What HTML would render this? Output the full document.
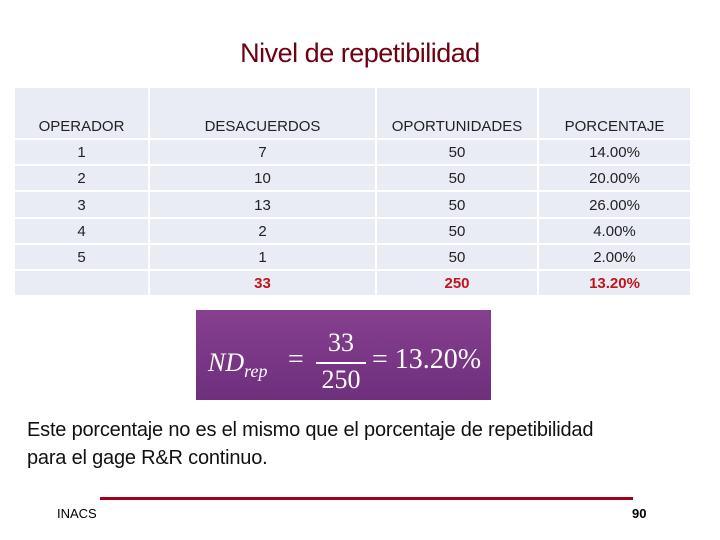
<!DOCTYPE html>
<html><head><meta charset="utf-8"><style>
body{margin:0;width:720px;height:540px;background:#fff;position:relative;overflow:hidden;font-family:"Liberation Sans","DejaVu Sans",sans-serif;}
.title{position:absolute;top:38px;left:0;width:720px;text-align:center;font-size:27px;color:#6e0010;letter-spacing:-0.5px;}
.tbl{position:absolute;left:15px;top:88px;}
.c{position:absolute;background:#e9ebf5;display:flex;align-items:flex-end;justify-content:center;font-size:15px;color:#222;box-sizing:border-box;padding-bottom:3px;}
.r{color:#c0151d;font-weight:bold;}
.formula{position:absolute;left:196px;top:310px;width:295px;height:90px;background:linear-gradient(#86408f,#6e2f7c);color:#fff;font-family:"Liberation Serif",serif;}
.para{position:absolute;left:27px;top:416px;width:650px;font-size:20px;line-height:28px;color:#111;letter-spacing:-0.2px;}
</style></head><body>
<div class="title">Nivel de repetibilidad</div>
<div class="tbl" id="tbl"></div>
<div class="formula">
 <span style="position:absolute;left:12px;top:38px;font-size:26px;font-style:italic;">ND<sub style="font-size:18px">rep</sub></span>
 <span style="position:absolute;left:92px;top:34px;font-size:28px;">=</span>
 <span style="position:absolute;left:123px;top:18px;font-size:26px;width:44px;text-align:center;">33</span>
 <div style="position:absolute;left:120px;top:52px;width:50px;height:2px;background:#fff;"></div>
 <span style="position:absolute;left:117px;top:55px;font-size:26px;width:56px;text-align:center;">250</span>
 <span style="position:absolute;left:176px;top:34px;font-size:28px;">= 13.20%</span>
</div>
<div class="para">Este porcentaje no es el mismo que el porcentaje de repetibilidad<br>para el gage R&amp;R continuo.</div>
<div style="position:absolute;left:100px;top:497px;width:533px;height:3px;background:#a0001a;"></div>
<div style="position:absolute;left:57px;top:506px;font-size:13px;">INACS</div>
<div style="position:absolute;left:632px;top:506px;font-size:13px;font-weight:bold;">90</div>
<script>
const headers=["OPERADOR","DESACUERDOS","OPORTUNIDADES","PORCENTAJE"];
const operators=["1","2","3","4","5"];
const disagreements=[7,10,13,2,1];
const opportunities=[50,50,50,50,50];
const colX=[0,135,362,524,677];
const rowY=[0,52,78,104,131,157,183,209];
const t=document.getElementById('tbl');
function cell(r,c,txt,cls){
 const d=document.createElement('div');
 d.className='c'+(cls?' '+cls:'');
 d.style.left=colX[c]+'px';d.style.top=rowY[r]+'px';
 d.style.width=(colX[c+1]-colX[c]-2)+'px';d.style.height=(rowY[r+1]-rowY[r]-2)+'px';
 d.textContent=txt;
 
 
 t.appendChild(d);
}
headers.forEach((h,c)=>cell(0,c,h));
let sd=0,so=0;
operators.forEach((o,i)=>{
 sd+=disagreements[i];so+=opportunities[i];
 cell(i+1,0,o);cell(i+1,1,String(disagreements[i]));cell(i+1,2,String(opportunities[i]));
 cell(i+1,3,(disagreements[i]/opportunities[i]*100).toFixed(2)+'%');
});
const n=operators.length+1;
cell(n,0,'');cell(n,1,String(sd),'r');cell(n,2,String(so),'r');cell(n,3,(sd/so*100).toFixed(2)+'%','r');
</script>
</body></html>
